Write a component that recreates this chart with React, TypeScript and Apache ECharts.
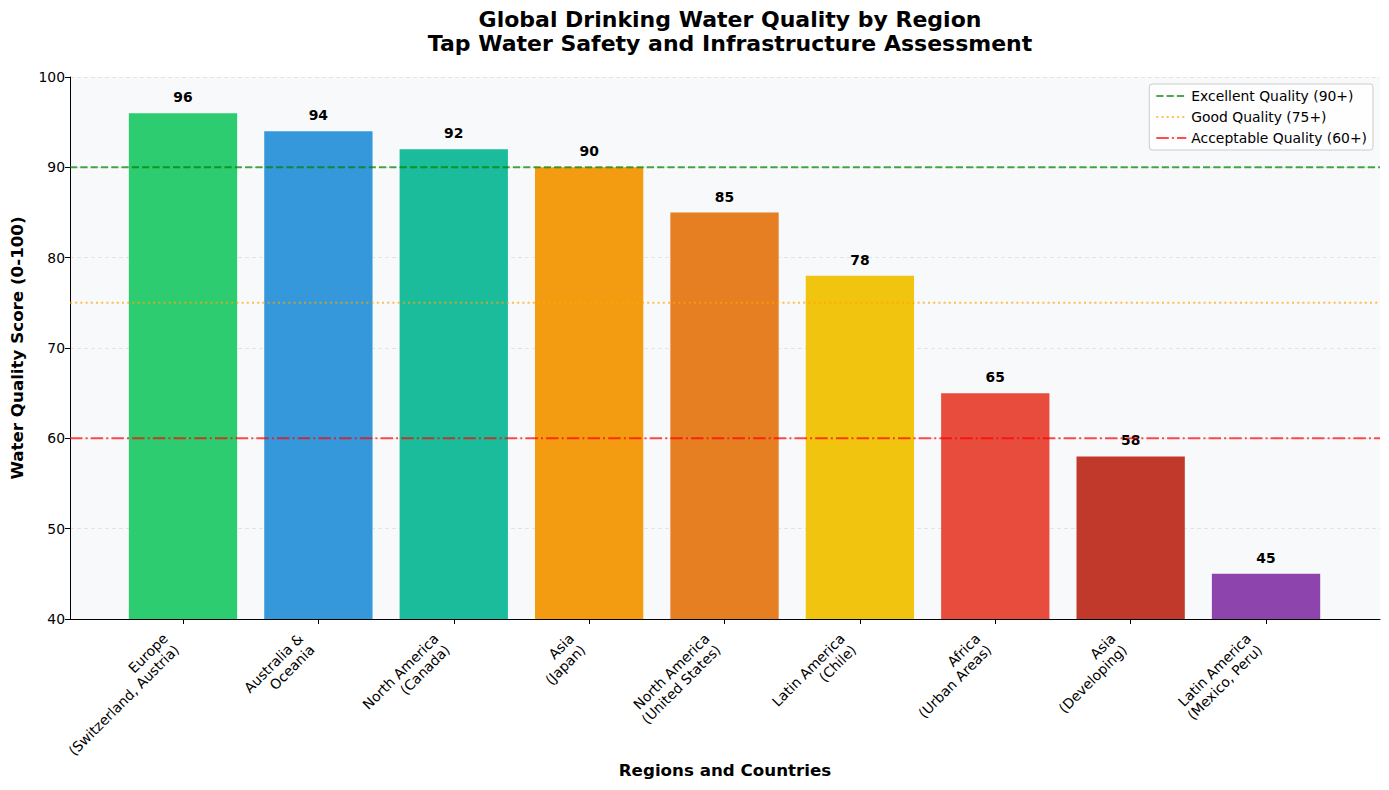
import React, { useEffect, useRef } from "react";
import * as echarts from "echarts";

// Regions shown along the x axis (two-line labels)
const categories: string[] = [
  "Europe\n(Switzerland, Austria)",
  "Australia &\nOceania",
  "North America\n(Canada)",
  "Asia\n(Japan)",
  "North America\n(United States)",
  "Latin America\n(Chile)",
  "Africa\n(Urban Areas)",
  "Asia\n(Developing)",
  "Latin America\n(Mexico, Peru)",
];

// Water quality score per region (0-100)
const scores: number[] = [96, 94, 92, 90, 85, 78, 65, 58, 45];

const barColors: string[] = [
  "#2ecc71",
  "#3498db",
  "#1abc9c",
  "#f39c12",
  "#e67e22",
  "#f1c40f",
  "#e74c3c",
  "#c0392b",
  "#8e44ad",
];

// Quality thresholds drawn as horizontal reference lines
const thresholdNames: string[] = [
  "Excellent Quality (90+)",
  "Good Quality (75+)",
  "Acceptable Quality (60+)",
];
const thresholdValues: number[] = [90, 75, 60];
const thresholdColors: string[] = ["#008000", "#ffa500", "#ff0000"];
const thresholdDashes: number[][] = [
  [7.2, 3.1],
  [2, 3.2],
  [12.5, 3.1, 2, 3.1],
];

const yTicks = { min: 40, max: 100, interval: 10 };

const FONT = "DejaVu Sans";

export default function App() {
  const ref = useRef<HTMLDivElement>(null);

  useEffect(() => {
    document.body.style.margin = "0";
    if (!ref.current) return;
    const chart = echarts.init(ref.current, undefined, { renderer: "svg" });

    const plotLeft = 70;
    const plotTop = 77;
    const plotWidth = 1310;
    const plotHeight = 542;
    // bars sit in an inner grid whose category bands are 135.4px wide
    const band = 135.38;
    const barsLeft = 183 - band / 2;

    const thresholdSeries = thresholdNames.map((name, i) => ({
      name,
      type: "line" as const,
      xAxisIndex: 0,
      yAxisIndex: 0,
      data: [
        [0, thresholdValues[i]],
        [1, thresholdValues[i]],
      ],
      symbol: "none",
      z: 10,
      silent: true,
      lineStyle: {
        color: thresholdColors[i],
        width: 2,
        opacity: 0.7,
        type: thresholdDashes[i],
      },
      itemStyle: { color: thresholdColors[i], opacity: 0.7 },
    }));

    chart.setOption({
      animation: false,
      textStyle: { fontFamily: FONT, color: "#000" },
      title: {
        text:
          "Global Drinking Water Quality by Region\nTap Water Safety and Infrastructure Assessment",
        left: 725,
        top: 2,
        textAlign: "center",
        textStyle: {
          fontFamily: FONT,
          fontSize: 22,
          fontWeight: "bold",
          lineHeight: 24,
          color: "#000",
        },
      },
      legend: {
        data: thresholdNames,
        orient: "vertical",
        right: 16,
        top: 84,
        itemWidth: 30,
        itemHeight: 14,
        itemGap: 7,
        padding: [5, 6, 5, 6],
        backgroundColor: "rgba(255,255,255,0.85)",
        borderColor: "#cccccc",
        borderWidth: 1,
        borderRadius: 3,
        itemStyle: { opacity: 0 },
        textStyle: { fontFamily: FONT, fontSize: 13.9, color: "#000" },
      },
      grid: [
        {
          left: plotLeft,
          top: plotTop,
          width: plotWidth,
          height: plotHeight,
          show: true,
          borderWidth: 0,
          backgroundColor: "#f8f9fa",
        },
        {
          left: barsLeft,
          top: plotTop,
          width: band * categories.length,
          height: plotHeight,
        },
      ],
      xAxis: [
        {
          type: "value",
          gridIndex: 0,
          min: 0,
          max: 1,
          axisLine: { show: true, lineStyle: { color: "#000", width: 1 } },
          axisTick: { show: false },
          axisLabel: { show: false },
          splitLine: { show: false },
          name: "Regions and Countries",
          nameLocation: "middle",
          nameGap: 142,
          nameTextStyle: {
            fontFamily: FONT,
            fontSize: 16.7,
            fontWeight: "bold",
            color: "#000",
          },
        },
        {
          type: "category",
          gridIndex: 1,
          data: categories,
          axisLine: { show: true, lineStyle: { color: "rgba(0,0,0,0)" } },
          axisTick: {
            show: true,
            alignWithLabel: true,
            length: 5,
            lineStyle: { color: "#000", width: 1 },
          },
          axisLabel: {
            rotate: 45,
            align: "right",
            verticalAlign: "top",
            margin: -12,
            padding: [0, 33, 0, 0],
            fontFamily: FONT,
            fontSize: 13.9,
            lineHeight: 16,
            color: "#000",
            interval: 0,
          },
          splitLine: { show: false },
        },
      ],
      yAxis: [
        {
          type: "value",
          gridIndex: 0,
          min: yTicks.min,
          max: yTicks.max,
          interval: yTicks.interval,
          axisLine: { show: true, lineStyle: { color: "#000", width: 1 } },
          axisTick: {
            show: true,
            length: 5,
            lineStyle: { color: "#000", width: 1 },
          },
          axisLabel: {
            fontFamily: FONT,
            fontSize: 13.9,
            color: "#000",
            margin: 5,
          },
          splitLine: {
            show: true,
            lineStyle: { color: "#dedede", type: [4, 3], width: 0.8 },
          },
          name: "Water Quality Score (0-100)",
          nameLocation: "middle",
          nameGap: 45,
          nameTextStyle: {
            fontFamily: FONT,
            fontSize: 16.7,
            fontWeight: "bold",
            color: "#000",
          },
        },
        {
          type: "value",
          gridIndex: 1,
          min: yTicks.min,
          max: yTicks.max,
          interval: yTicks.interval,
          show: false,
        },
      ],
      series: [
        {
          type: "bar",
          xAxisIndex: 1,
          yAxisIndex: 1,
          barWidth: "80%",
          z: 3,
          data: scores.map((v, i) => ({
            value: v,
            itemStyle: { color: barColors[i] },
          })),
          label: {
            show: true,
            position: "top",
            distance: 9,
            fontFamily: FONT,
            fontSize: 13.9,
            fontWeight: "bold",
            color: "#000",
          },
        },
        ...thresholdSeries,
      ],
    });

    return () => chart.dispose();
  }, []);

  return <div ref={ref} style={{ width: 1389, height: 790 }} />;
}
